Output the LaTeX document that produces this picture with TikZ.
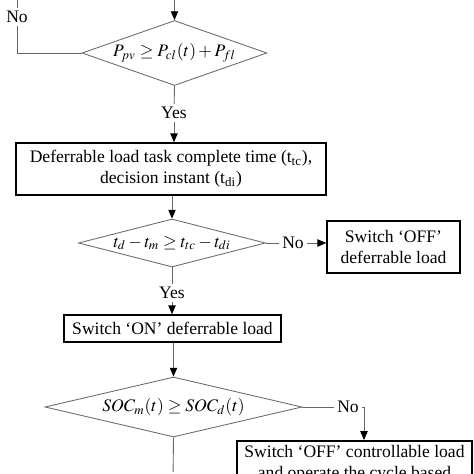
\documentclass[tikz,border=0pt]{standalone}
\usepackage{mathptmx}
\usepackage[no-math]{fontspec}
\setmainfont{Liberation Serif}
\usetikzlibrary{shapes.geometric}
\usetikzlibrary{arrows.meta}
\usetikzlibrary{calc}

\begin{document}
\begin{tikzpicture}[x=0.02cm,y=-0.02cm,font=\fontsize{10}{12}\selectfont,
  dec/.style={diamond,draw=gray!85!black,line width=0.5pt,inner sep=0pt},
  blk/.style={rectangle,draw=black,line width=0.9pt,align=center,inner sep=2pt},
  lin/.style={draw=gray!80!black,line width=0.5pt},
  arr/.style={lin,-{Triangle[length=5pt,width=4.2pt,color=black]}},
  lbl/.style={inner sep=1.5pt}]
\useasboundingbox (0,0) rectangle (474,474);
% decisions
\node[dec,aspect=2.85,minimum width=3.7cm,minimum height=1.3cm] (d1) at (174.5,53) {$P_{pv}\geq P_{cl}(t)+P_{fl}$};
\node[dec,aspect=3.9,minimum width=3.74cm,minimum height=0.96cm] (d2) at (172,243) {$t_d-t_m\geq t_{tc}-t_{di}$};
\node[dec,aspect=4.28,minimum width=5.14cm,minimum height=1.2cm] (d3) at (173.5,407) {$SOC_m(t)\geq SOC_d(t)$};
% boxes
\node[blk,minimum width=6.2cm,minimum height=1.04cm] (b1) at (171,169) {Deferrable load task complete time (t\textsubscript{tc}),\\ decision instant (t\textsubscript{di})};
\node[blk,minimum width=2.66cm,minimum height=1.04cm] (b2) at (393.5,247) {Switch `OFF'\\ deferrable load};
\node[blk,minimum width=4.34cm,minimum height=0.54cm] (b3) at (172.5,328.5) {Switch `ON' deferrable load};
\node[blk,minimum width=4.7cm,anchor=north,inner ysep=2.5pt] (b4) at (354.5,440) {Switch `OFF' controllable load\\ and operate the cycle based};
% labels
\node[lbl] (no1) at (17,17) {No};
\node[lbl] (yes1) at (174,113) {Yes};
\node[lbl] (no2) at (293,243) {No};
\node[lbl] (yes2) at (172,293) {Yes};
\node[lbl] (no3) at (348,407) {No};
\node[lbl] (yes3) at (173,481) {Yes};
\coordinate (in) at (174.5,0);
\coordinate (top1) at (17,0);
\coordinate (k3) at (364,407);
% connectors
\draw[arr] (in) -- (d1.north);
\draw[lin] (top1) -- (no1);
\draw[lin] (no1) -- (no1 |- d1) -- (d1.west);
\draw[lin] (d1.south) -- (yes1);
\draw[arr] (yes1) -- (yes1 |- b1.north);
\draw[arr] (b1.south -| d2) -- (d2.north);
\draw[lin] (d2.east) -- (no2);
\draw[arr] (no2) -- (no2 -| b2.west);
\draw[lin] (d2.south) -- (yes2);
\draw[arr] (yes2) -- (yes2 |- b3.north);
\draw[arr] (b3.south -| d3) -- (d3.north);
\draw[lin] (d3.east) -- (no3);
\draw[arr] (no3) -- (k3) -- (k3 |- b4.north);
\draw[lin] (d3.south) -- (yes3);
\end{tikzpicture}
\end{document}
